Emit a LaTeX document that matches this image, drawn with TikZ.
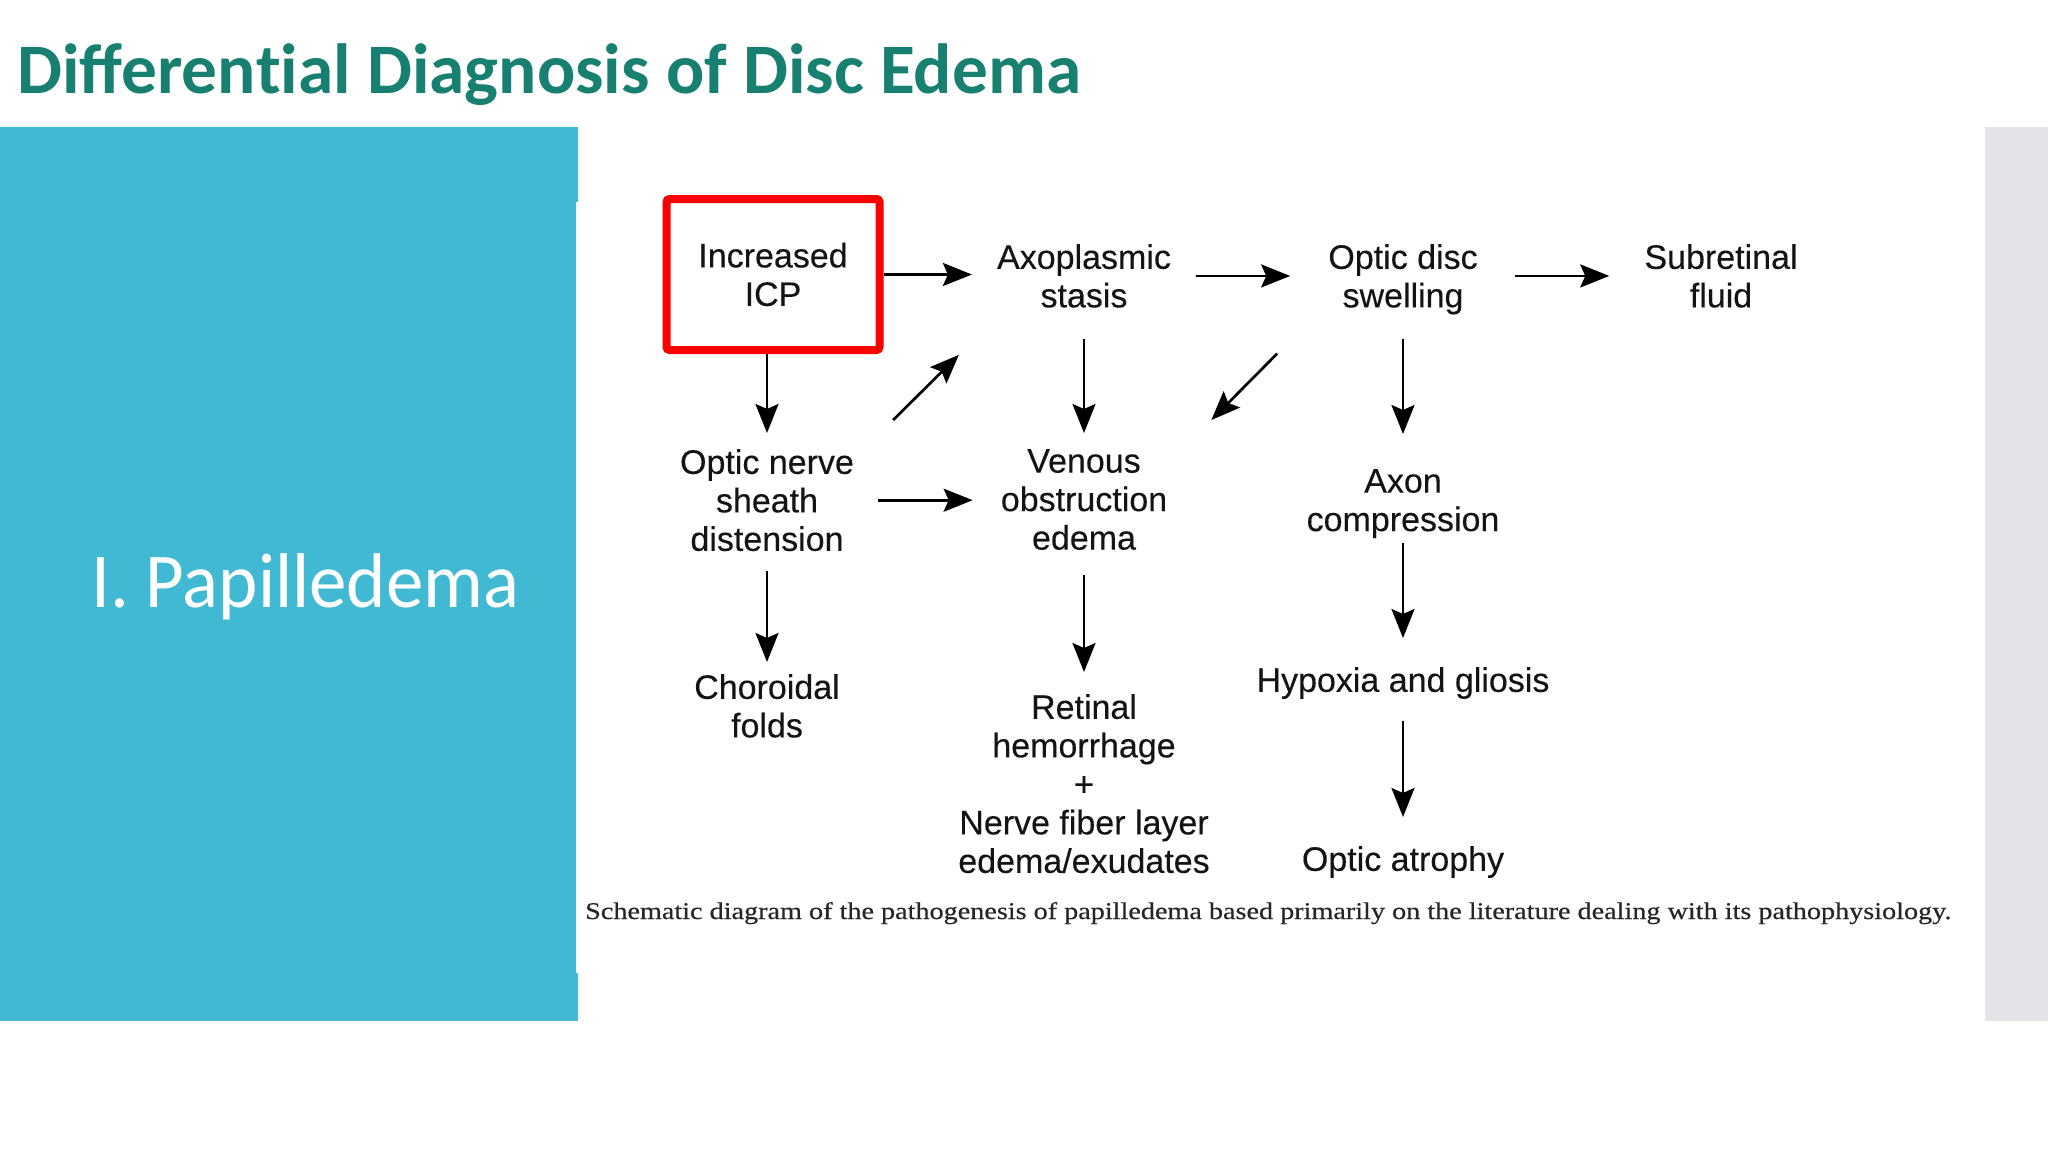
\documentclass[tikz,border=0pt]{standalone}
\usepackage{fontspec}
\usepackage{graphicx}
\setmainfont[FakeBold=0.25]{Liberation Sans}
\newfontfamily\titlefont{Carlito}
\newfontfamily\capfont[FakeBold=0.4]{Liberation Serif}
\usetikzlibrary{arrows.meta,calc}
\definecolor{teal1}{RGB}{24,128,112}
\definecolor{panelblue}{RGB}{66,185,211}
\definecolor{stripgray}{RGB}{228,227,231}
\definecolor{boxred}{RGB}{250,0,0}
\begin{document}
\begin{tikzpicture}[x=1pt,y=-1pt,
  lbl/.style={font=\fontsize{34}{38.5}\selectfont, align=center, inner sep=0pt, anchor=north, text=black!92},
  arr/.style={line width=2.7pt, -{Stealth[length=29pt,width=23pt,inset=5pt]}},
  redbox/.style={draw=boxred, line width=8pt, rounded corners=3pt, minimum width=213pt, minimum height=151pt, inner sep=0pt, font=\fontsize{34}{38.5}\selectfont, align=center, text=black!92}
]
\useasboundingbox (0,0) rectangle (2048,1152);
\fill[white] (0,0) rectangle (2048,1152);
\fill[panelblue] (0,127) rectangle (578,1021);
\fill[stripgray] (1985,127) rectangle (2048,1021);
\fill[white] (576,202) rectangle (578,973);

\node[anchor=base west, inner sep=0pt, text=teal1, font=\titlefont\bfseries\fontsize{71}{80}\selectfont] (title) at (17,93) {\resizebox{1064pt}{\height}{Differen\hbox{t}ial Diagnosis of Disc Edema}};
\node[anchor=base west, inner sep=0pt, text=white, font=\titlefont\fontsize{77.6}{90}\selectfont] (sect) at (91,607) {\resizebox{428pt}{\height}{I. Papilledema}};
\node[anchor=base west, inner sep=0pt, text=black!85, font=\capfont\fontsize{24}{28}\selectfont] (cap) at (585,919) {\resizebox{1366pt}{\height}{Schematic diagram of the pathogenesis of papilledema based primarily on the literature dealing with its pathophysiology.}};

\node[redbox] (icp) at (773,274.5) {Increased\\ICP};
\node[lbl] (axo) at (1084,244) {Axoplasmic\\stasis};
\node[lbl] (disc) at (1403,244) {Optic disc\\swelling};
\node[lbl] (sub) at (1721,244) {Subretinal\\fluid};
\node[lbl] (onsd) at (767,449) {Optic nerve\\sheath\\distension};
\node[lbl] (ven) at (1084,449) {Venous\\obstruction\\edema};
\node[lbl] (axon) at (1403,469) {Axon\\compression};
\node[lbl] (chor) at (767,674) {Choroidal\\folds};
\node[lbl] (hyp) at (1403,667) {Hypoxia and gliosis};
\node[lbl] (ret) at (1084,694) {Retinal\\hemorrhage\\+\\Nerve fiber layer\\edema/exudates};
\node[lbl] (atr) at (1403,846) {Optic atrophy};

\draw[arr, shorten >=25pt] (icp.east) -- (icp.east -| axo.west);
\draw[arr, shorten <=25pt, shorten >=38pt] (axo.east) -- (axo.east -| disc.west);
\draw[arr, shorten <=37pt, shorten >=35pt] (axo.east -| disc.east) -- (axo.east -| sub.west);
\draw[arr, shorten >=16pt] (icp.south -| onsd.north) -- (onsd.north);
\draw[arr, shorten <=31pt, shorten >=16pt] (axo.south) -- (ven.north);
\draw[arr, shorten <=24pt, shorten >=35pt] (disc.south) -- (axon.north);
\draw[arr, shorten <=24pt, shorten >=28pt] (onsd.east) -- (onsd.east -| ven.west);
\draw[arr, shorten <=20pt, shorten >=12pt] (onsd.south) -- (chor.north);
\draw[arr, shorten <=25pt, shorten >=22pt] (ven.south) -- (ret.north);
\draw[arr, shorten <=5pt, shorten >=29pt] (axon.south) -- (hyp.north);
\draw[arr, shorten <=22pt, shorten >=29pt] (hyp.south) -- (atr.north);
\draw[arr] ($(onsd.north east)+(39,-29)$) -- ($(axo.south west)+(-38,47)$);
\draw[arr] ($(disc.south west)+(-51,39)$) -- ($(ven.north east)+(44,-29)$);
\end{tikzpicture}
\end{document}
